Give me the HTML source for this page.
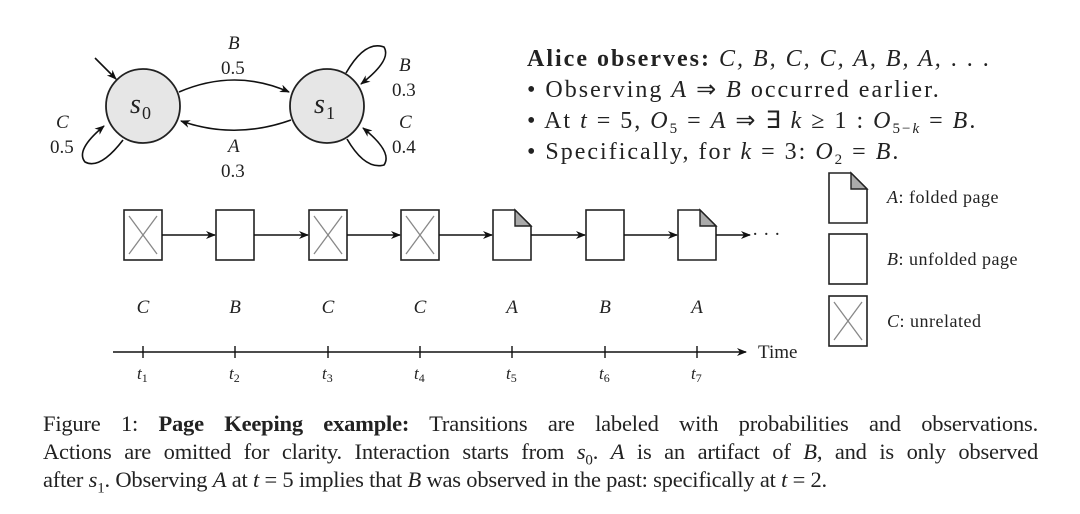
<!DOCTYPE html>
<html><head><meta charset="utf-8"><style>
html,body{margin:0;padding:0;background:#fff;width:1080px;height:514px;overflow:hidden}
svg{display:block}
text{font-family:"Liberation Serif",serif;fill:#222}
.i{font-style:italic}
.cap{font-family:"Liberation Serif",serif;font-size:22.5px;color:#222;position:absolute;left:43px;width:995px;text-align:justify;text-align-last:justify;line-height:28px;white-space:nowrap;letter-spacing:-0.2px}
</style></head><body>
<svg width="1080" height="514" viewBox="0 0 1080 514">
<defs>
<marker id="ah" markerWidth="10" markerHeight="8" refX="9" refY="4" orient="auto" markerUnits="userSpaceOnUse">
<path d="M0,0 L10,4 L0,8 L3,4 Z" fill="#111"/></marker>
<g id="cb"><rect x="0" y="0" width="38" height="50" fill="#fff" stroke="#222" stroke-width="1.6"/>
<line x1="5" y1="6" x2="33" y2="44" stroke="#888" stroke-width="1.3"/><line x1="33" y1="6" x2="5" y2="44" stroke="#888" stroke-width="1.3"/></g>
<g id="bb"><rect x="0" y="0" width="38" height="50" fill="#fff" stroke="#222" stroke-width="1.6"/></g>
<g id="ab"><path d="M0,0 H22 L38,16 V50 H0 Z" fill="#fff" stroke="#222" stroke-width="1.6"/><path d="M22,0 L38,16 H22 Z" fill="#aaa" stroke="#222" stroke-width="1.4"/></g>
</defs>
<circle cx="143" cy="106" r="37" fill="#e6e6e6" stroke="#222" stroke-width="1.8"/>
<circle cx="327" cy="106" r="37" fill="#e6e6e6" stroke="#222" stroke-width="1.8"/>
<text x="130" y="113" font-size="28" class="i">s</text><text x="142" y="119" font-size="18">0</text>
<text x="314" y="113" font-size="28" class="i">s</text><text x="326" y="119" font-size="18">1</text>
<path d="M95,58 L116,79" stroke="#111" stroke-width="1.6" fill="none" marker-end="url(#ah)"/>
<path d="M179,92 Q235,68 289,92" stroke="#111" stroke-width="1.6" fill="none" marker-end="url(#ah)"/>
<path d="M291,120 Q235,140 181,121" stroke="#111" stroke-width="1.6" fill="none" marker-end="url(#ah)"/>
<path d="M123,140 Q100,170 85,162 Q75,150 104,126" stroke="#111" stroke-width="1.6" fill="none" marker-end="url(#ah)"/>
<path d="M346,73 Q365,40 384,47 Q392,60 361,84" stroke="#111" stroke-width="1.6" fill="none" marker-end="url(#ah)"/>
<path d="M347,139 Q365,170 384,165 Q393,152 363,128" stroke="#111" stroke-width="1.6" fill="none" marker-end="url(#ah)"/>
<g font-size="19">
<text x="228" y="49" class="i">B</text><text x="221" y="74">0.5</text>
<text x="228" y="152" class="i">A</text><text x="221" y="177">0.3</text>
<text x="56" y="128" class="i">C</text><text x="50" y="153">0.5</text>
<text x="399" y="71" class="i">B</text><text x="392" y="96">0.3</text>
<text x="399" y="128" class="i">C</text><text x="392" y="153">0.4</text>
</g>
<g font-size="24" letter-spacing="2">
<text x="527" y="66"><tspan font-weight="bold">Alice observes:</tspan> <tspan class="i">C, B, C, C, A, B, A,</tspan> . . .</text>
<text x="527" y="97">• Observing <tspan class="i">A</tspan> ⇒ <tspan class="i">B</tspan> occurred earlier.</text>
<text x="527" y="128">• At <tspan class="i">t</tspan> = 5, <tspan class="i">O</tspan><tspan font-size="15" dy="5">5</tspan><tspan dy="-5"> = </tspan><tspan class="i">A</tspan> ⇒ ∃ <tspan class="i">k</tspan> ≥ 1 : <tspan class="i">O</tspan><tspan font-size="15" dy="5">5−<tspan class="i">k</tspan></tspan><tspan dy="-5"> = </tspan><tspan class="i">B</tspan>.</text>
<text x="527" y="159">• Specifically, for <tspan class="i">k</tspan> = 3: <tspan class="i">O</tspan><tspan font-size="15" dy="5">2</tspan><tspan dy="-5"> = </tspan><tspan class="i">B</tspan>.</text>
</g>
<use href="#cb" x="124" y="210"/>
<use href="#bb" x="216" y="210"/>
<use href="#cb" x="309" y="210"/>
<use href="#cb" x="401" y="210"/>
<use href="#ab" x="493" y="210"/>
<use href="#bb" x="586" y="210"/>
<use href="#ab" x="678" y="210"/>
<g stroke="#111" stroke-width="1.6" marker-end="url(#ah)">
<line x1="162" y1="235" x2="215" y2="235"/><line x1="254" y1="235" x2="308" y2="235"/>
<line x1="347" y1="235" x2="400" y2="235"/><line x1="439" y1="235" x2="492" y2="235"/>
<line x1="531" y1="235" x2="585" y2="235"/><line x1="624" y1="235" x2="677" y2="235"/>
<line x1="716" y1="235" x2="750" y2="235"/>
</g>
<text x="752" y="240" font-size="19">· · ·</text>
<g font-size="19" class="i" text-anchor="middle">
<text x="143" y="313">C</text><text x="235" y="313">B</text><text x="328" y="313">C</text><text x="420" y="313">C</text>
<text x="512" y="313">A</text><text x="605" y="313">B</text><text x="697" y="313">A</text>
</g>
<line x1="113" y1="352" x2="746" y2="352" stroke="#111" stroke-width="1.6" marker-end="url(#ah)"/>
<g stroke="#111" stroke-width="1.4">
<line x1="143" y1="346" x2="143" y2="358"/><line x1="235" y1="346" x2="235" y2="358"/><line x1="328" y1="346" x2="328" y2="358"/>
<line x1="420" y1="346" x2="420" y2="358"/><line x1="512" y1="346" x2="512" y2="358"/><line x1="605" y1="346" x2="605" y2="358"/><line x1="697" y1="346" x2="697" y2="358"/>
</g>
<text x="758" y="358" font-size="19">Time</text>
<g font-size="17">
<text x="137" y="379" class="i">t<tspan font-size="12" font-style="normal" dy="3">1</tspan></text>
<text x="229" y="379" class="i">t<tspan font-size="12" font-style="normal" dy="3">2</tspan></text>
<text x="322" y="379" class="i">t<tspan font-size="12" font-style="normal" dy="3">3</tspan></text>
<text x="414" y="379" class="i">t<tspan font-size="12" font-style="normal" dy="3">4</tspan></text>
<text x="506" y="379" class="i">t<tspan font-size="12" font-style="normal" dy="3">5</tspan></text>
<text x="599" y="379" class="i">t<tspan font-size="12" font-style="normal" dy="3">6</tspan></text>
<text x="691" y="379" class="i">t<tspan font-size="12" font-style="normal" dy="3">7</tspan></text>
</g>
<use href="#ab" x="829" y="173"/>
<use href="#bb" x="829" y="234"/>
<use href="#cb" x="829" y="296"/>
<g font-size="18" letter-spacing="0.5">
<text x="887" y="203"><tspan class="i">A</tspan>: folded page</text>
<text x="887" y="265"><tspan class="i">B</tspan>: unfolded page</text>
<text x="887" y="327"><tspan class="i">C</tspan>: unrelated</text>
</g>
</svg>
<div class="cap" style="top:410px">Figure 1: <b>Page Keeping example:</b> Transitions are labeled with probabilities and observations.</div>
<div class="cap" style="top:438px">Actions are omitted for clarity. Interaction starts from <i>s</i><sub style="font-size:15px">0</sub>. <i>A</i> is an artifact of <i>B</i>, and is only observed</div>
<div class="cap" style="top:466px;text-align-last:left;width:auto">after <i>s</i><sub style="font-size:15px">1</sub>. Observing <i>A</i> at <i>t</i> = 5 implies that <i>B</i> was observed in the past: specifically at <i>t</i> = 2.</div>
</body></html>
